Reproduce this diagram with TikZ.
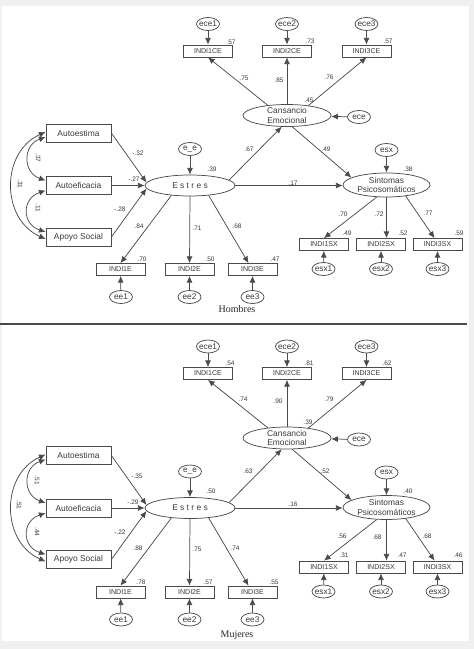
\documentclass[tikz,border=0pt]{standalone}
\usepackage{fontspec}
\setmainfont{Liberation Serif}
\setsansfont{Liberation Sans}
\usetikzlibrary{arrows.meta,calc,shapes.geometric}

\definecolor{ln}{HTML}{4A4A4A}
\definecolor{tx}{HTML}{3A3A3A}

\tikzset{
 base/.style={line width=0.55pt, draw=ln},
 obs/.style={base, rectangle, minimum width=49*0.75pt, minimum height=12*0.75pt, inner sep=0pt, font=\sffamily\fontsize{5.3}{6}\selectfont, text=tx},
 exo/.style={base, rectangle, minimum width=65*0.75pt, minimum height=18*0.75pt, inner sep=0pt, font=\sffamily\fontsize{6.3}{7}\selectfont, text=tx},
 lat/.style={base, ellipse, inner sep=-1pt, font=\sffamily\fontsize{6.3}{6.9}\selectfont, text=tx, align=center},
 err/.style={base, ellipse, minimum width=23*0.75pt, minimum height=13*0.75pt, inner xsep=-2pt, inner ysep=0pt, font=\sffamily\fontsize{6.2}{7}\selectfont, text=tx},
 arr/.style={base, -{Latex[length=5pt,width=4.4pt]}},
 dbl/.style={base, {Latex[length=5pt,width=4.4pt]}-{Latex[length=5pt,width=4.4pt]}},
 lab/.style={font=\sffamily\fontsize{4.9}{5.5}\selectfont, text=tx, inner sep=0pt},
 vlab/.style={lab, rotate=-90},
 ttl/.style={font=\rmfamily\fontsize{7.5}{9}\selectfont, text=black!85, inner sep=0pt},
}

\newcommand\semstruct{%
 \node[err] (ece1) at (208,24) {ece1};
 \node[err] (ece2) at (287,24) {ece2};
 \node[err] (ece3) at (366.5,24) {ece3};
 \node[obs] (ce1) at (208,51) {INDI1CE};
 \node[obs] (ce2) at (287,51) {INDI2CE};
 \node[obs] (ce3) at (366.5,51) {INDI3CE};
 \node[lat, minimum width=88*0.75pt, minimum height=22*0.75pt] (cans) at (287,115.5) {Cansancio\\Emocional};
 \node[err] (ece) at (359,117) {ece};
 \node[exo] (ae) at (78.5,133) {Autoestima};
 \node[exo] (aef) at (78.5,185.5) {Autoeficacia};
 \node[exo] (aps) at (78.5,237) {Apoyo Social};
 \node[lat, minimum width=90*0.75pt, minimum height=21*0.75pt] (est) at (190,185.5) {E s t r e s};
 \node[err] (ee) at (190,149) {e\_e};
 \node[lat, minimum width=87*0.75pt, minimum height=24*0.75pt] (sin) at (386.5,185) {Sintomas\\Psicosomáticos};
 \node[err] (esx) at (386.5,150) {esx};
 \node[obs] (e1) at (120.5,269.5) {INDI1E};
 \node[obs] (e2) at (189.5,269.5) {INDI2E};
 \node[obs] (e3) at (252.5,269.5) {INDI3E};
 \node[err] (ee1) at (121,297) {ee1};
 \node[err] (ee2) at (189.5,297) {ee2};
 \node[err] (ee3) at (252.5,297) {ee3};
 \node[obs] (s1) at (324,244.5) {INDI1SX};
 \node[obs] (s2) at (381,244.5) {INDI2SX};
 \node[obs] (s3) at (437.5,244.5) {INDI3SX};
 \node[err] (esx1) at (323.5,269) {esx1};
 \node[err] (esx2) at (381,269) {esx2};
 \node[err] (esx3) at (437.5,269) {esx3};
 % error arrows
 \draw[arr] (ece1) -- (ce1);
 \draw[arr] (ece2) -- (ce2);
 \draw[arr] (ece3) -- (ce3);
 \draw[arr] (ece) -- (cans);
 \draw[arr] (ee) -- (est);
 \draw[arr] (esx) -- (sin);
 \draw[arr] (ee1) -- (e1);
 \draw[arr] (ee2) -- (e2);
 \draw[arr] (ee3) -- (e3);
 \draw[arr] (esx1) -- (s1);
 \draw[arr] (esx2) -- (s2);
 \draw[arr] (esx3) -- (s3);
 % loadings
 \draw[arr] (cans.152) -- (ce1.south);
 \draw[arr] (cans.north) -- (ce2.south);
 \draw[arr] (cans.25) -- (ce3.south);
 \draw[arr] (est.208) -- (e1.north);
 \draw[arr] (est.south) -- (e2.north);
 \draw[arr] (est.332) -- ($(e3.north)+(-4,0)$);
 \draw[arr] (sin.231) -- (s1.north);
 \draw[arr] (sin.south) -- (sin.south |- s2.north);
 \draw[arr] (sin.330) -- ($(s3.north)+(-3,0)$);
 % structural paths
 \draw[arr] (ae.east) -- (est.176);
 \draw[arr] (aef.east) -- (est.west);
 \draw[arr] (aps.east) -- (est.184);
 \draw[arr] (est.8) -- (cans.245);
 \draw[arr] (cans.295) -- (sin.168);
 \draw[arr] (est.east) -- (est.east -| sin.west);
 % correlations
 \draw[dbl] ($(ae.west)+(0,4)$) .. controls +(-23,8) and +(-23,-8) .. ($(aef.west)+(0,-5)$);
 \draw[dbl] ($(aef.west)+(0,5)$) .. controls +(-24,8) and +(-24,-8) .. ($(aps.west)+(0,-5)$);
 \draw[dbl] ($(ae.west)+(0,-1)$) .. controls +(-45,20) and +(-45,-20) .. ($(aps.west)+(0,2)$);
}

\begin{document}
\begin{tikzpicture}[x=0.75pt,y=-0.75pt]
\useasboundingbox (0,0) rectangle (474,649);
\fill[gray!12] (0,0) rectangle (474,649);
\fill[white] (2,6) rectangle (469,641);
\draw[line width=1pt, draw=ln] (0,324) -- (467,324);

\begin{scope}[name prefix=h-]
 \semstruct
 \node[lab] (r1) at (231,42) {.57};
 \node[lab] (r2) at (310,41) {.73};
 \node[lab] (r3) at (388,41) {.57};
 \node[lab] (l1) at (244,78) {.75};
 \node[lab] (l2) at (279,80) {.85};
 \node[lab] (l3) at (329,77) {.76};
 \node[lab] (rc) at (309,100) {.45};
 \node[lab] (p1) at (249,149) {.67};
 \node[lab] (p2) at (326,149) {.49};
 \node[lab] (re) at (212,169) {.39};
 \node[lab] (rs) at (408,169) {.38};
 \node[lab] (p3) at (293,183) {.17};
 \node[lab] (g1) at (138,153) {-.32};
 \node[lab] (g2) at (134,179) {-.27};
 \node[lab] (g3) at (120,209) {-.28};
 \node[vlab] (c1) at (38,158) {.37};
 \node[vlab] (c2) at (38,208) {.11};
 \node[vlab] (c3) at (20,184) {.31};
 \node[lab] (m1) at (139,226) {.84};
 \node[lab] (m2) at (197,228) {.71};
 \node[lab] (m3) at (237,226) {.68};
 \node[lab] (n1) at (343,214) {.70};
 \node[lab] (n2) at (379,214) {.72};
 \node[lab] (n3) at (428,213) {.77};
 \node[lab] (q1) at (142,259) {.70};
 \node[lab] (q2) at (210,259) {.50};
 \node[lab] (q3) at (275,259) {.47};
 \node[lab] (k1) at (347,233) {.49};
 \node[lab] (k2) at (403,233) {.52};
 \node[lab] (k3) at (459,233) {.59};
 \node[ttl] (t) at (237,309) {Hombres};
\end{scope}

\begin{scope}[shift={(0,322.5)}, name prefix=m-]
 \semstruct
 \node[lab] (r1) at (230,41) {.54};
 \node[lab] (r2) at (309,41) {.81};
 \node[lab] (r3) at (387,41) {.62};
 \node[lab] (l1) at (243,77) {.74};
 \node[lab] (l2) at (278,79) {.90};
 \node[lab] (l3) at (329,77) {.79};
 \node[lab] (rc) at (308,100) {.39};
 \node[lab] (p1) at (248,149) {.63};
 \node[lab] (p2) at (325,149) {.52};
 \node[lab] (re) at (211,168.5) {.50};
 \node[lab] (rs) at (408,168.5) {.40};
 \node[lab] (p3) at (293,182) {.16};
 \node[lab] (g1) at (137,153.5) {-.35};
 \node[lab] (g2) at (133,179.5) {-.29};
 \node[lab] (g3) at (120,209.5) {-.22};
 \node[vlab] (c1) at (37,158) {.51};
 \node[vlab] (c2) at (37,209.5) {.44};
 \node[vlab] (c3) at (19,182.5) {.51};
 \node[lab] (m1) at (138,226) {.88};
 \node[lab] (m2) at (197,226.5) {.75};
 \node[lab] (m3) at (235,225.5) {.74};
 \node[lab] (n1) at (342,213.5) {.56};
 \node[lab] (n2) at (377,214.5) {.68};
 \node[lab] (n3) at (427,213.5) {.68};
 \node[lab] (q1) at (141,259.5) {.78};
 \node[lab] (q2) at (208,259.5) {.57};
 \node[lab] (q3) at (274,259.5) {.55};
 \node[lab] (k1) at (344,232.5) {.31};
 \node[lab] (k2) at (402,232.5) {.47};
 \node[lab] (k3) at (458,232.5) {.46};
 \node[ttl] (t) at (237,312.5) {Mujeres};
\end{scope}
\end{tikzpicture}
\end{document}
